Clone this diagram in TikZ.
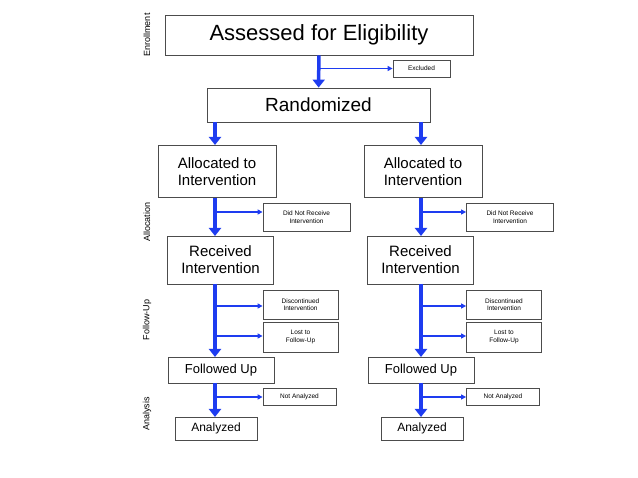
\documentclass[tikz,border=0pt]{standalone}
\usepackage{fontspec}
\setmainfont{Liberation Sans}
\usetikzlibrary{arrows.meta}
\definecolor{fb}{RGB}{30,60,240}
\begin{document}
\begin{tikzpicture}[x=1pt,y=-1pt,
 box/.style={draw=black!70,line width=0.8pt,fill=white,inner sep=0pt,align=center},
 big/.style={box,font=\fontsize{22}{24}\selectfont},
 mid/.style={box,font=\fontsize{15}{17}\selectfont},
 sml/.style={box,font=\fontsize{6.5}{7.5}\selectfont},
 side/.style={rotate=90,font=\fontsize{9}{10}\selectfont},
 thick arr/.style={draw=fb,line width=3.5pt,-{Triangle[length=8pt,width=12pt]}},
 thin arr/.style={draw=fb,line width=1.3pt,-{Triangle[length=5pt,width=5pt]}}]
\useasboundingbox (0,0) rectangle (638,478);
\node[big,minimum width=308,minimum height=40] (ae) at (319,35) {Assessed for Eligibility};
\node[sml,minimum width=57,minimum height=17] (ex) at (421.5,68.5) {Excluded};
\node[big,font=\fontsize{19}{21}\selectfont,minimum width=223,minimum height=34] (rd) at (318.5,105) {Randomized};
\coordinate (exj) at (319,68.5);
\draw[thick arr] (ae) -- (rd);
\draw[thin arr] (exj) -- (ex);
\node[side] (l1) at (147,35) {Enrollment};
\node[side] (l2) at (147,222) {Allocation};
\node[side] (l3) at (147,320) {Follow-Up};
\node[side] (l4) at (147,414) {Analysis};
\foreach \s/\cx/\ax/\bx/\o in {L/215/217/306.5/6, R/421/423/510/0}{
 \coordinate (top\s) at (\cx,122);
 \node[mid,minimum width=118,minimum height=52] (al\s) at (\ax,171.5) {Allocated to\\Intervention};
 \node[sml,minimum width=87,minimum height=28] (dn\s) at (\bx,217) {Did Not Receive\\Intervention};
 \node[mid,minimum width=106,minimum height=48] (rc\s) at (\cx-0.5+\o,260) {Received\\Intervention};
 \node[sml,minimum width=75,minimum height=29] (dc\s) at (\bx-6,304.5) {Discontinued\\Intervention};
 \node[sml,minimum width=75,minimum height=30] (lf\s) at (\bx-6,337) {Lost to\\Follow-Up};
 \node[mid,font=\fontsize{13}{15}\selectfont,minimum width=106,minimum height=26] (fu\s) at (\cx+\o,370) {Followed Up};
 \node[sml,minimum width=73,minimum height=17] (na\s) at (\bx-7,396.5) {Not Analyzed};
 \node[mid,font=\fontsize{12}{14}\selectfont,minimum width=82,minimum height=23] (an\s) at (\cx+1,428.5) {Analyzed};
 \draw[thick arr] (top\s) -- (\cx,145);
 \draw[thick arr] (\cx,198) -- (\cx,236);
 \draw[thick arr] (\cx,284) -- (\cx,357);
 \draw[thick arr] (\cx,383) -- (\cx,417);
 \coordinate (j1\s) at (\cx,212); \draw[thin arr] (j1\s) -- (j1\s -| dn\s.west);
 \coordinate (j2\s) at (\cx,306); \draw[thin arr] (j2\s) -- (j2\s -| dc\s.west);
 \coordinate (j3\s) at (\cx,336); \draw[thin arr] (j3\s) -- (j3\s -| lf\s.west);
 \coordinate (j4\s) at (\cx,397); \draw[thin arr] (j4\s) -- (j4\s -| na\s.west);
}
\end{tikzpicture}
\end{document}
